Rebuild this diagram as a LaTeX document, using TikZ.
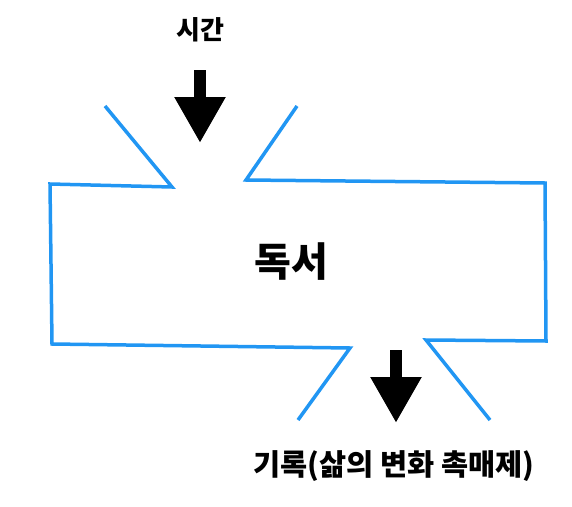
\documentclass[tikz,border=0pt]{standalone}
\usepackage{fontspec}
\newfontfamily\krfont{Noto Sans CJK KR}
\usetikzlibrary{arrows.meta, positioning}
\definecolor{bookblue}{RGB}{33,150,243}
\tikzset{
x=1pt, y=-1pt, % pixel-like units, y going down
wall/.style={bookblue, line width=3.5pt}, % the blue outline of the book
bigarrow/.style={line width=12pt, -{Triangle[width=48pt,length=46pt]}}, % the black block arrows
label/.style={font=\krfont\bfseries, inner sep=0pt}, % korean text
}
\begin{document}
\begin{tikzpicture}
    \useasboundingbox (0,0) rectangle (572,506);
    % outline
    \draw[wall] (105,106) -- (172,187) -- (50,184) -- (52,344) -- (350,348) -- (298,420);
    \draw[wall] (297,106) -- (246,180) -- (545,183) -- (546,341) -- (426,340) -- (490,420);

    \node[label, font=\krfont\bfseries\fontsize{26}{30}\selectfont] (time) at (200,30) {시간};
    \node[label, font=\krfont\bfseries\fontsize{40}{46}\selectfont] (book) at (291,262) {독서};
    \node[label, font=\krfont\bfseries\fontsize{29.5}{34}\selectfont] (record) at (394,466) {기록(삶의 변화 촉매제)};

    \coordinate (in top) at (200,70);
    \coordinate (in tip) at (200,143);
    \coordinate (out top) at (396,350);
    \coordinate (out tip) at (396,423);
    \draw[bigarrow] (in top) -- (in tip);
    \draw[bigarrow] (out top) -- (out tip);
\end{tikzpicture}
\end{document}
